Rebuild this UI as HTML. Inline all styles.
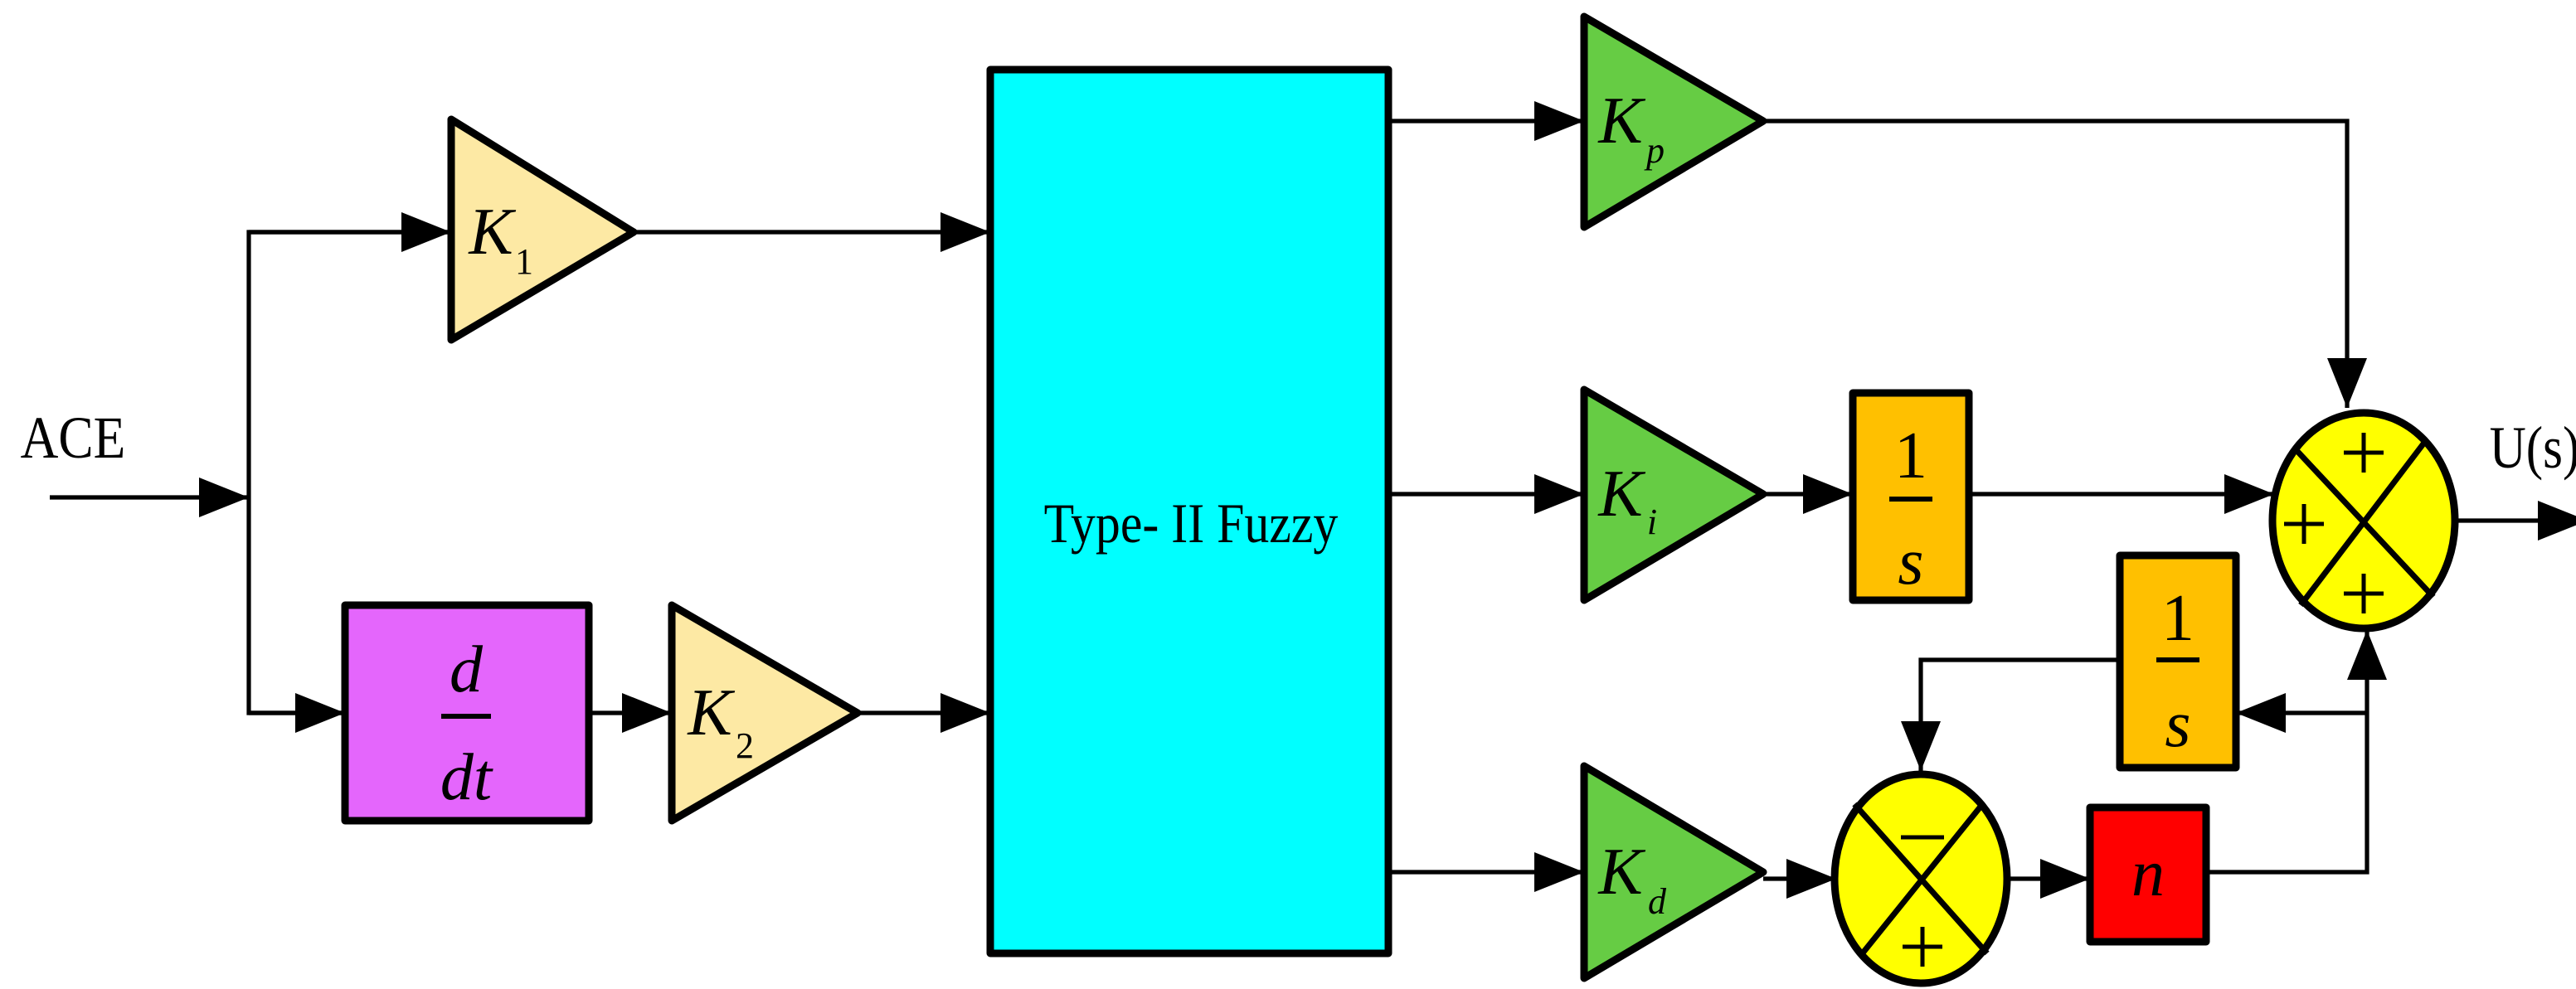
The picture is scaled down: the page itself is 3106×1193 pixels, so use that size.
<!DOCTYPE html>
<html><head><style>html,body{margin:0;padding:0;background:#fff}svg{display:block}</style></head>
<body>
<svg width="3106" height="1193" viewBox="0 0 1553 596.5" xmlns="http://www.w3.org/2000/svg" font-family="Liberation Serif, serif">
<defs>
<marker id="a" viewBox="0 0 30 24" refX="30" refY="12" markerWidth="30" markerHeight="24" markerUnits="userSpaceOnUse" orient="auto"><path d="M0,0 L30,12 L0,24 Z" fill="#000"/></marker>
</defs>
<g stroke="#000" stroke-width="2.6" fill="none">
<line x1="30" y1="300" x2="150" y2="300" marker-end="url(#a)"/>
<polyline points="272,140 150,140 150,430 208,430" />
<line x1="150" y1="140" x2="272" y2="140" marker-end="url(#a)"/>
<line x1="150" y1="430" x2="208" y2="430" marker-end="url(#a)"/>
<line x1="382" y1="140" x2="597" y2="140" marker-end="url(#a)"/>
<line x1="355" y1="430" x2="405" y2="430" marker-end="url(#a)"/>
<line x1="517" y1="430" x2="597" y2="430" marker-end="url(#a)"/>
<line x1="837" y1="73" x2="955" y2="73" marker-end="url(#a)"/>
<line x1="837" y1="298" x2="955" y2="298" marker-end="url(#a)"/>
<line x1="837" y1="526" x2="955" y2="526" marker-end="url(#a)"/>
<polyline points="1063,73 1415,73 1415,246" marker-end="url(#a)"/>
<line x1="1063" y1="298" x2="1117" y2="298" marker-end="url(#a)"/>
<line x1="1187" y1="298" x2="1371" y2="298" marker-end="url(#a)"/>
<line x1="1480" y1="314" x2="1560" y2="314" marker-end="url(#a)"/>
<line x1="1063" y1="530" x2="1107" y2="530" marker-end="url(#a)"/>
<line x1="1210" y1="530" x2="1260" y2="530" marker-end="url(#a)"/>
<polyline points="1330,526 1427,526 1427,380" marker-end="url(#a)"/>
<line x1="1427" y1="430" x2="1348" y2="430" marker-end="url(#a)"/>
<polyline points="1278,398 1158,398 1158,465" marker-end="url(#a)"/>
</g>
<g stroke="#000" stroke-width="4.5" stroke-linejoin="round">
<polygon points="272,72 272,205 382,140" fill="#fde9a4"/>
<polygon points="405,365 405,495 517,430" fill="#fde9a4"/>
<rect x="208" y="365" width="147" height="130" fill="#e466fc"/>
<rect x="597" y="42" width="240" height="533" fill="#00ffff"/>
<polygon points="955,10 955,137 1063,73" fill="#66cc44"/>
<polygon points="955,235 955,362 1063,298" fill="#66cc44"/>
<polygon points="955,462 955,590 1063,526" fill="#66cc44"/>
<rect x="1117" y="237" width="70" height="125" fill="#ffc000"/>
<rect x="1278" y="335" width="70" height="128" fill="#ffc000"/>
<rect x="1260" y="487" width="70" height="81" fill="#ff0000"/>
<ellipse cx="1425" cy="314" rx="55" ry="65" fill="#ffff00"/>
<ellipse cx="1158" cy="530" rx="52" ry="63" fill="#ffff00"/>
</g>
<g stroke="#000" stroke-width="3.5">
<line x1="1383" y1="270" x2="1467" y2="360"/>
<line x1="1463" y1="265" x2="1387" y2="365"/>
<line x1="1118" y1="485" x2="1198" y2="575"/>
<line x1="1196" y1="484" x2="1122" y2="576"/>
<line x1="1139" y1="301" x2="1165" y2="301" stroke-width="3"/>
<line x1="1300" y1="398" x2="1326" y2="398" stroke-width="3"/>
<line x1="266" y1="432" x2="296" y2="432" stroke-width="3"/>
<g stroke-width="2.5">
<line x1="1413" y1="273" x2="1437" y2="273"/><line x1="1425" y1="261" x2="1425" y2="285"/>
<line x1="1377" y1="316" x2="1401" y2="316"/><line x1="1389" y1="304" x2="1389" y2="328"/>
<line x1="1413" y1="358" x2="1437" y2="358"/><line x1="1425" y1="346" x2="1425" y2="370"/>
<line x1="1146" y1="505" x2="1172" y2="505"/>
<line x1="1147" y1="571" x2="1171" y2="571"/><line x1="1159" y1="559" x2="1159" y2="583"/>
</g>
</g>
<g font-size="28" fill="#000" text-anchor="middle">
<text x="44" y="276" font-size="36" transform="translate(44,0) scale(0.88,1) translate(-44,0)">ACE</text>
<text x="1528" y="282" font-size="36" transform="translate(1528,0) scale(0.85,1) translate(-1528,0)">U(s)</text>
<text x="718" y="327" font-size="34" transform="translate(718,0) scale(0.88,1) translate(-718,0)">Type- II Fuzzy</text>
<text x="296" y="153" font-style="italic" font-size="40">K</text><text x="316" y="165" font-size="22">1</text>
<text x="428" y="443" font-style="italic" font-size="40">K</text><text x="449" y="457" font-size="22">2</text>
<text x="977" y="86" font-style="italic" font-size="40">K</text><text x="998" y="98" font-style="italic" font-size="22">p</text>
<text x="977" y="311" font-style="italic" font-size="40">K</text><text x="996" y="322" font-style="italic" font-size="22">i</text>
<text x="977" y="539" font-style="italic" font-size="40">K</text><text x="999" y="551" font-style="italic" font-size="22">d</text>
<text x="281" y="417" font-style="italic" font-size="40">d</text>
<text x="281" y="482" font-style="italic" font-size="40">dt</text>
<text x="1152" y="288" font-size="40">1</text>
<text x="1152" y="352" font-style="italic" font-size="40">s</text>
<text x="1313" y="386" font-size="40">1</text>
<text x="1313" y="450" font-style="italic" font-size="40">s</text>
<text x="1295" y="540" font-style="italic" font-size="40">n</text>
</g>
</svg>
</body></html>
